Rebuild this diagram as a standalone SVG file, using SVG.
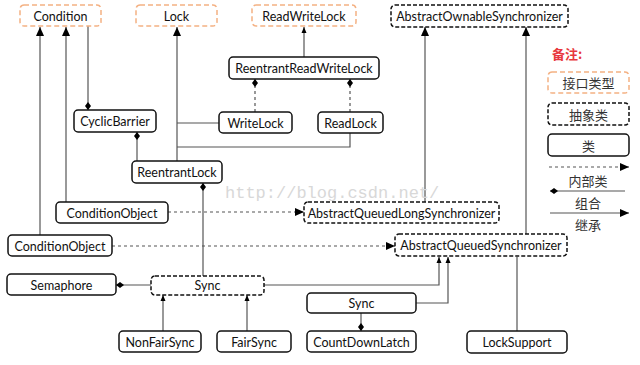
<svg xmlns="http://www.w3.org/2000/svg" width="640" height="365" viewBox="0 0 640 365">
<style>
.iface{fill:#fff;stroke:#F4B183;stroke-width:1.5;stroke-dasharray:5 3}
.abs{fill:#fff;stroke:#111;stroke-width:1.5;stroke-dasharray:4 2}
.cls{fill:#fff;stroke:#111;stroke-width:1.5}
.t{font-family:Lato,"Liberation Sans",sans-serif;font-size:12.5px;fill:#111;text-anchor:middle;dominant-baseline:central}
.c{font-family:"Noto Sans CJK SC",sans-serif;font-size:13px;fill:#333;text-anchor:middle;dominant-baseline:central}
.e{stroke:#555;stroke-width:1.2;fill:none}
.d{stroke-dasharray:3 3}
.a{marker-end:url(#arr)}
.s{marker-end:url(#sarr)}
.m{marker-start:url(#dia)}
</style>
<defs>
<marker id="arr" markerUnits="userSpaceOnUse" markerWidth="9" markerHeight="8" refX="9" refY="4" orient="auto"><path d="M0,0 L9,4 L0,8 Z" fill="#000"/></marker>
<marker id="sarr" markerUnits="userSpaceOnUse" markerWidth="6" markerHeight="6" refX="6" refY="3" orient="auto"><path d="M0,0.5 L6,3 L0,5.5 Z" fill="#000"/></marker>
<marker id="dia" markerUnits="userSpaceOnUse" markerWidth="8" markerHeight="6" refX="0" refY="3" orient="auto"><path d="M0,3 L4,0 L8,3 L4,6 Z" fill="#000"/></marker>
</defs>
<rect width="640" height="365" fill="#fff"/>
<g id="connectors">
<path class="e a" d="M40,235 V27"/>
<path class="e a" d="M66,202 V27"/>
<path class="e m" d="M88,110 V26"/>
<path class="e a" d="M177,161 V27"/>
<path class="e" d="M219,123 H177"/>
<path class="e" d="M350,133 V147 H177"/>
<path class="e s" d="M304,57 V27"/>
<path class="e d m" d="M255,79 V112"/>
<path class="e d m" d="M350,79 V112"/>
<path class="e m" d="M137,132 V161"/>
<path class="e m" d="M203,183 V276"/>
<path class="e d a" d="M168,212 H304"/>
<path class="e d a" d="M112,246 H395"/>
<path class="e a" d="M425,202 V27"/>
<path class="e a" d="M526,234 V27"/>
<path class="e s" d="M264,285 H439 V257"/>
<path class="e s" d="M416,303 H448 V257"/>
<path class="e m" d="M116,285 H151"/>
<path class="e s" d="M163,331 V295"/>
<path class="e s" d="M247,331 V295"/>
<path class="e m" d="M361,331 V313"/>
<path class="e" d="M517,331 V257"/>
</g>
<g id="Condition"><rect class="iface" x="20" y="5" width="81" height="21" rx="4"/><text class="t" x="60.5" y="16">Condition</text></g>
<g id="Lock"><rect class="iface" x="136" y="5" width="81" height="21" rx="4"/><text class="t" x="176.5" y="16">Lock</text></g>
<g id="ReadWriteLock"><rect class="iface" x="252" y="5" width="104" height="21" rx="4"/><text class="t" x="304" y="16">ReadWriteLock</text></g>
<g id="AbstractOwnableSynchronizer"><rect class="abs" x="391" y="5" width="177" height="22" rx="4"/><text class="t" x="479.5" y="16">AbstractOwnableSynchronizer</text></g>
<g id="ReentrantReadWriteLock"><rect class="cls" x="229" y="57" width="150" height="22" rx="4"/><text class="t" x="304" y="68">ReentrantReadWriteLock</text></g>
<g id="CyclicBarrier"><rect class="cls" x="74" y="110" width="82" height="22" rx="4"/><text class="t" x="115" y="121">CyclicBarrier</text></g>
<g id="WriteLock"><rect class="cls" x="219" y="112" width="73" height="21" rx="4"/><text class="t" x="255.5" y="123">WriteLock</text></g>
<g id="ReadLock"><rect class="cls" x="318" y="112" width="65" height="21" rx="4"/><text class="t" x="350.5" y="123">ReadLock</text></g>
<g id="ReentrantLock"><rect class="cls" x="132" y="161" width="90" height="22" rx="4"/><text class="t" x="177" y="172">ReentrantLock</text></g>
<g id="ConditionObject1"><rect class="cls" x="56" y="202" width="112" height="21" rx="4"/><text class="t" x="112" y="213">ConditionObject</text></g>
<g id="AbstractQueuedLongSynchronizer"><rect class="abs" x="304" y="202" width="195" height="21" rx="4"/><text class="t" x="401.5" y="213">AbstractQueuedLongSynchronizer</text></g>
<g id="ConditionObject2"><rect class="cls" x="8" y="235" width="104" height="21" rx="4"/><text class="t" x="60" y="246">ConditionObject</text></g>
<g id="AbstractQueuedSynchronizer"><rect class="abs" x="395" y="234" width="172" height="22" rx="4"/><text class="t" x="481" y="245">AbstractQueuedSynchronizer</text></g>
<g id="Semaphore"><rect class="cls" x="7" y="274" width="109" height="21" rx="4"/><text class="t" x="61.5" y="285">Semaphore</text></g>
<g id="Sync1"><rect class="abs" x="151" y="276" width="113" height="19" rx="4"/><text class="t" x="207.5" y="285.5">Sync</text></g>
<g id="Sync2"><rect class="cls" x="307" y="293" width="109" height="20" rx="4"/><text class="t" x="361.5" y="303">Sync</text></g>
<g id="NonFairSync"><rect class="cls" x="119" y="331" width="82" height="21" rx="4"/><text class="t" x="160" y="342">NonFairSync</text></g>
<g id="FairSync"><rect class="cls" x="217" y="331" width="74" height="21" rx="4"/><text class="t" x="254" y="342">FairSync</text></g>
<g id="CountDownLatch"><rect class="cls" x="307" y="331" width="109" height="21" rx="4"/><text class="t" x="361.5" y="342">CountDownLatch</text></g>
<g id="LockSupport"><rect class="cls" x="467" y="331" width="100" height="22" rx="4"/><text class="t" x="517" y="342">LockSupport</text></g>
<g id="legend">
<text x="567" y="53" style="font-family:'Noto Sans CJK SC',sans-serif;font-size:13px;font-weight:bold;fill:#e8383d;text-anchor:middle;dominant-baseline:central">备注:</text>
<rect class="iface" x="548" y="72" width="81" height="21" rx="4"/><text class="c" x="588.5" y="82.5">接口类型</text>
<rect class="abs" x="548" y="103" width="81" height="22" rx="4"/><text class="c" x="588.5" y="114">抽象类</text>
<rect class="cls" x="548" y="134" width="81" height="22" rx="4"/><text class="c" x="588.5" y="145">类</text>
<path class="e d a" d="M549,167 H629"/>
<text class="c" x="588" y="180">内部类</text>
<path class="e m" d="M550,191 H625"/>
<text class="c" x="588" y="202">组合</text>
<path class="e a" d="M550,213 H629"/>
<text class="c" x="588" y="224">继承</text>
</g>
<text x="225" y="198" style="font-family:'Liberation Mono',monospace;font-size:17px;fill:#d8d8d8">http://blog.csdn.net/</text>
</svg>
